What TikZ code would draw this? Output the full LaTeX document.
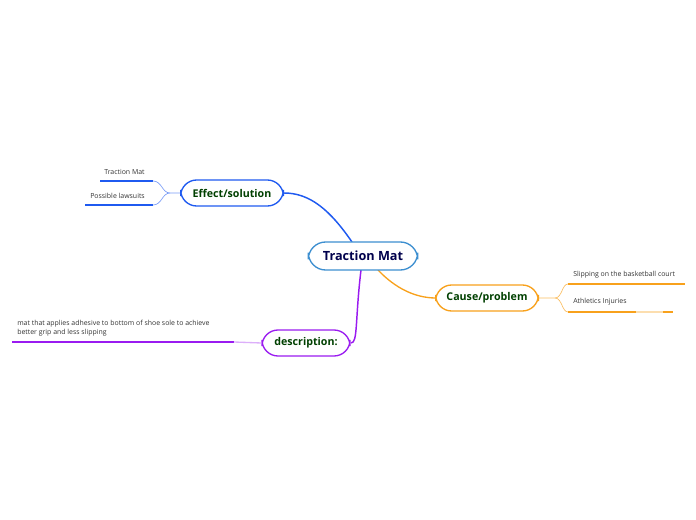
\documentclass[tikz,border=0pt]{standalone}
\usepackage{fontspec}
\setmainfont{Open Sans}
\begin{document}
\begin{tikzpicture}[x=0.75pt,y=-0.75pt,
 topic/.style={draw=#1,line width=1pt,rounded corners=12pt,fill=white,minimum height=19.5pt,font=\bfseries\fontsize{8}{9}\selectfont,text=green!25!black},
 leaf/.style={font=\fontsize{5.2}{6.5}\selectfont,text=black!80,anchor=west,align=left,inner sep=0pt}]
\useasboundingbox (0,0) rectangle (696,520);
\definecolor{bl}{HTML}{1F5AF0}\definecolor{og}{HTML}{F8A11C}\definecolor{pu}{HTML}{9A1BF0}\definecolor{cb}{HTML}{3D8FD0}
% connectors
\draw[bl,line width=1.1pt] (352,242) .. controls (330,210) and (310,193) .. (284,193);
\draw[og,line width=1pt] (378,270) .. controls (395,288) and (415,298) .. (436,298);
\draw[pu,line width=1.1pt] (361,270) .. controls (355,320) and (358,343) .. (351,343);
\node[topic=cb,minimum width=82pt,rounded corners=13pt,minimum height=21pt,font=\bfseries\fontsize{9.5}{11}\selectfont,text=blue!30!black] (c) at (363,256) {Traction Mat};
\node[topic=bl,minimum width=77pt] (e) at (232,193) {Effect/solution};
\node[topic=og,minimum width=77pt] (p) at (487,298) {Cause/problem};
\node[topic=pu,minimum width=66pt] (d) at (306,343) {description:};
% effect leaves
\coordinate (e1a) at (100,181);\coordinate (e1b) at (153,181);
\coordinate (e2a) at (85,205);\coordinate (e2b) at (153,205);
\draw[bl,line width=1pt] (e1a)--(e1b);\draw[bl,line width=1pt] (e2a)--(e2b);
\draw[bl!60,line width=0.5pt] (e.west) -- (170,193) .. controls (162,193) and (162,181) .. (e1b);
\draw[bl!60,line width=0.5pt] (170,193) .. controls (162,193) and (162,205) .. (e2b);
\node[leaf] (t1) at (104,172) {Traction Mat};
\node[leaf] (t2) at (90,196) {Possible lawsuits};
% description leaf
\coordinate (d1a) at (12,342);\coordinate (d1m) at (234,342);
\draw[pu,line width=1pt] (d1a)--(d1m);
\draw[pu!35,line width=1pt] (d1m)--(d.west);
\node[leaf] (t3) at (17,328) {mat that applies adhesive to bottom of shoe sole to achieve\\better grip and less slipping};
% cause leaves
\coordinate (p1a) at (568,284);\coordinate (p1b) at (685,284);
\coordinate (p2a) at (568,312);\coordinate (p2b) at (673,312);
\draw[og,line width=1pt] (p1a)--(p1b);
\draw[og,line width=1pt] (p2a)--(636,312);\draw[og!35,line width=1pt] (636,312)--(663,312);\draw[og,line width=1pt] (663,312)--(p2b);
\draw[og!70,line width=0.5pt] (p.east) -- (555,298) .. controls (562,298) and (562,284) .. (p1a);
\draw[og!70,line width=0.5pt] (555,298) .. controls (562,298) and (562,312) .. (p2a);
\node[leaf] (t4) at (573,275) {Slipping on the basketball court};
\node[leaf] (t5) at (573,302) {Athletics Injuries};
\end{tikzpicture}
\end{document}
